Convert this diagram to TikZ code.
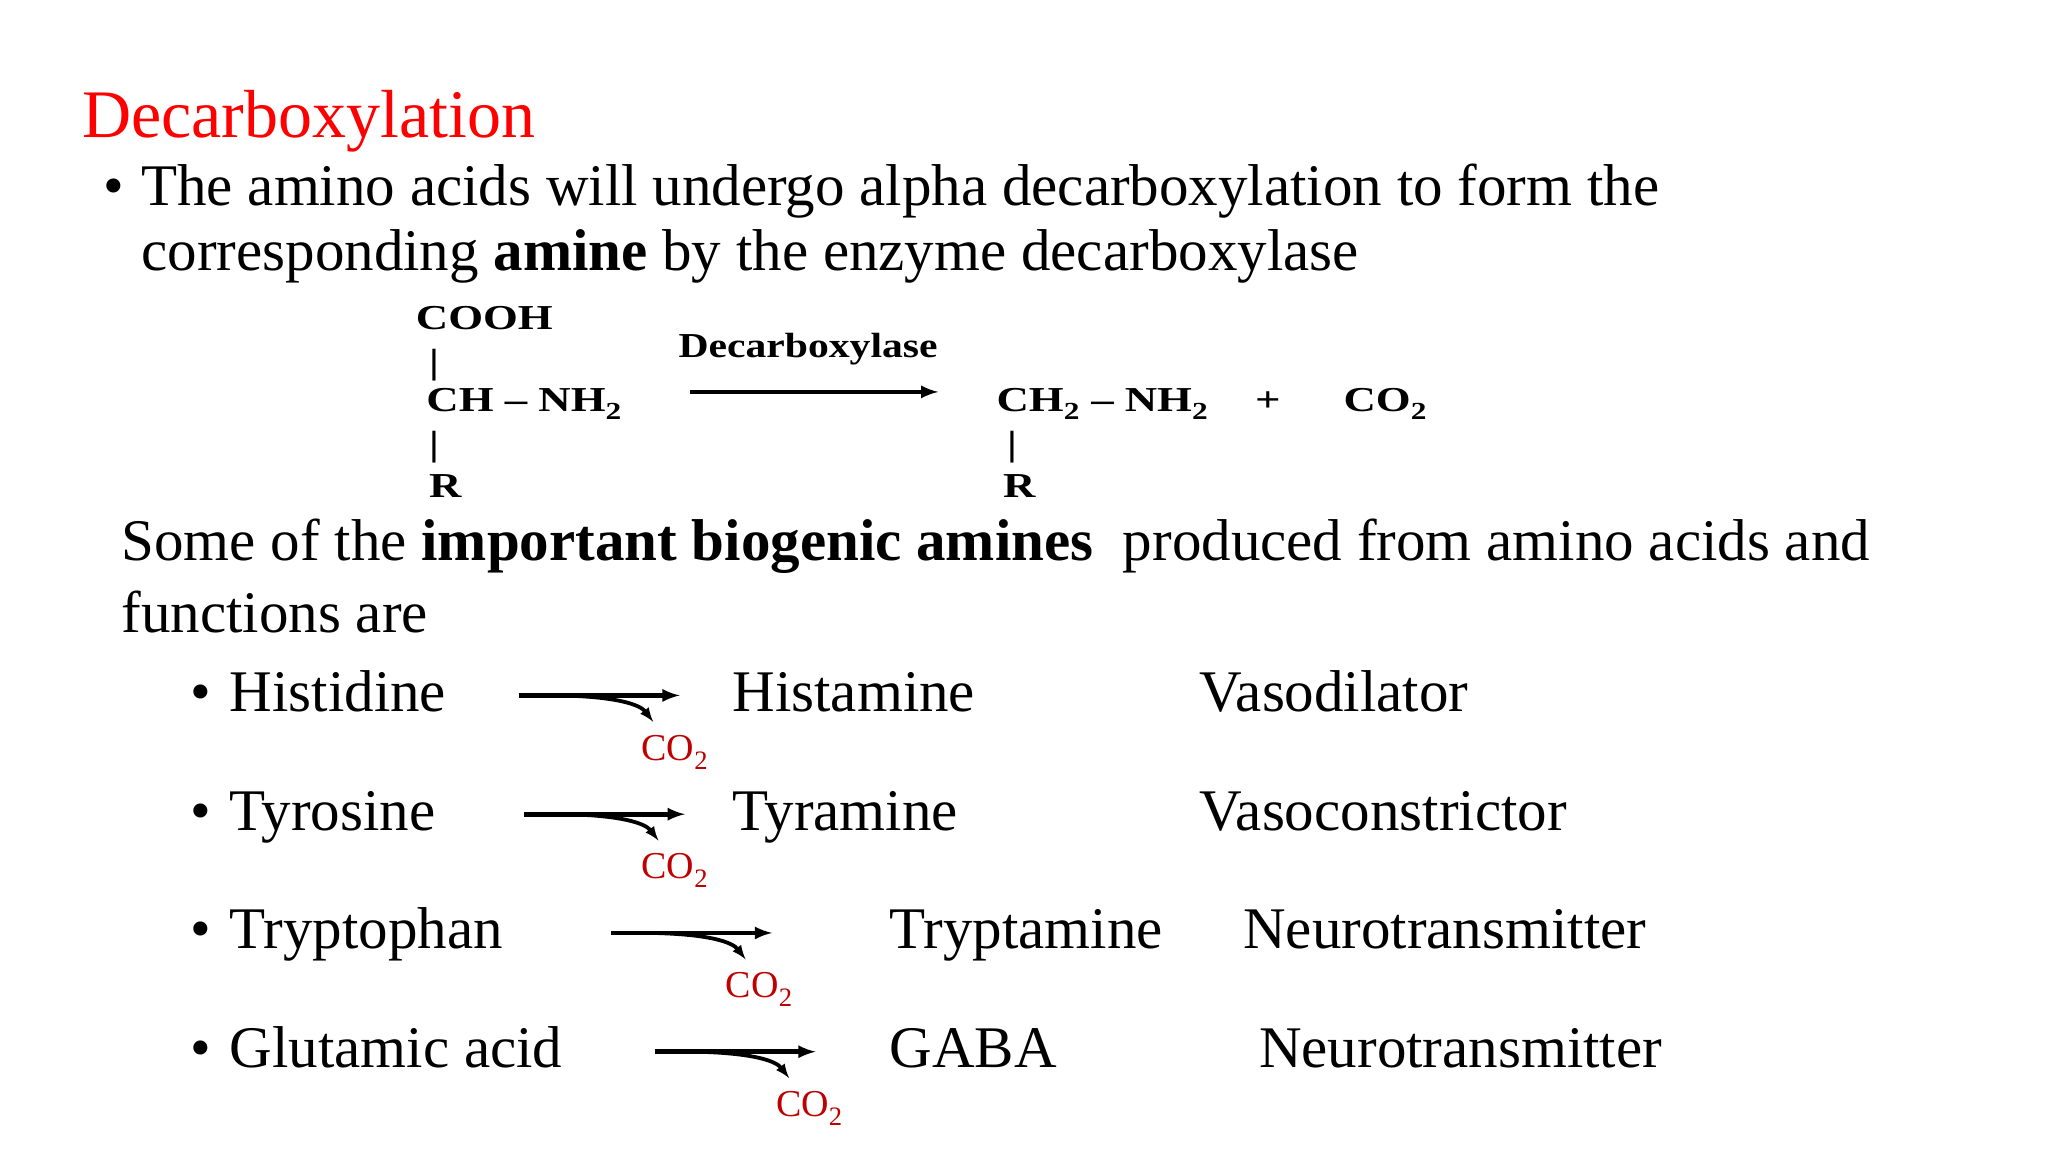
\documentclass[tikz,border=0pt]{standalone}
\usepackage{fontspec}
\setmainfont{Liberation Serif}
\begin{document}
\begin{tikzpicture}[x=1.3196pt,y=-1.3196pt,
  every node/.style={inner sep=0pt,anchor=base west},
  body/.style={font=\fontsize{59}{66}\selectfont},
  chem/.style={font=\fontsize{35}{40}\selectfont\bfseries,xscale=1.28},
  co/.style={font=\fontsize{38}{44}\selectfont,text={rgb,255:red,190;green,0;blue,0}},
  arr/.style={line width=4.8pt,-latex},
  carr/.style={line width=3.8pt,-latex}]
\useasboundingbox (0,0) rectangle (1552,873);
\node[font=\fontsize{68}{76}\selectfont,text=red] (title) at (62,104) {Decarboxylation};
\node[body] (b1) at (78,156) {\textbullet};
\node[body] (l1) at (107,156) {The amino acids will undergo alpha decarboxylation to form the};
\node[body] (l2) at (107,205) {corresponding \textbf{amine} by the enzyme decarboxylase};
% reaction
\node[chem] (cooh) at (315,250) {COOH};
\node[chem] (v1) at (325,283) {|};
\node[chem] (ch) at (323,312) {CH -- NH$_\mathbf{2}$};
\node[chem] (v2) at (325,345) {|};
\node[chem] (r1) at (325,377) {R};
\node[chem,xscale=0.93] (dec) at (514,271) {Decarboxylase};
\coordinate (a1) at (523,297);
\coordinate (a2) at (711,297);
\draw[arr] (a1) -- (a2);
\node[chem] (ch2) at (755,312) {CH$_\mathbf{2}$ -- NH$_\mathbf{2}$};
\node[chem] (plus) at (951,312) {+};
\node[chem] (co2) at (1018,312) {CO$_\mathbf{2}$};
\node[chem] (v3) at (763,345) {|};
\node[chem] (r2) at (760,377) {R};
\node[body] (s1) at (92,425) {Some of the \textbf{important biogenic amines}\ \ produced from amino acids and};
\node[body] (s2) at (92,479) {functions are};
% list
\foreach \n/\y/\aa/\cx/\name/\prod/\px/\fn/\fx in {
  1/539/393/486/Histidine/Histamine/555/Vasodilator/909,
  2/629/397/486/Tyrosine/Tyramine/555/Vasoconstrictor/909,
  3/719/463/550/Tryptophan/Tryptamine/674/Neurotransmitter/942,
  4/809/496/588/Glutamic acid/GABA/674/Neurotransmitter/954}{
  \node[body] (bl\n) at (144,\y) {\textbullet};
  \node[body] (nm\n) at (174,\y) {\name};
  \node[body] (pr\n) at (\px,\y) {\prod};
  \node[body] (fn\n) at (\fx,\y) {\fn};
  \coordinate (s\n) at (\aa,\y-12);
  \coordinate (e\n) at (\aa+122,\y-12);
  \coordinate (m\n) at (\aa+32,\y-12);
  \coordinate (d\n) at (\aa+102,\y+8);
  \draw[arr] (s\n) -- (e\n);
  \draw[carr] (m\n) .. controls (\aa+75,\y-11) and (\aa+92,\y-5) .. (d\n);
  \node[co] (c\n) at (\cx,\y+37) {CO\textsubscript{2}};
}
\end{tikzpicture}
\end{document}
